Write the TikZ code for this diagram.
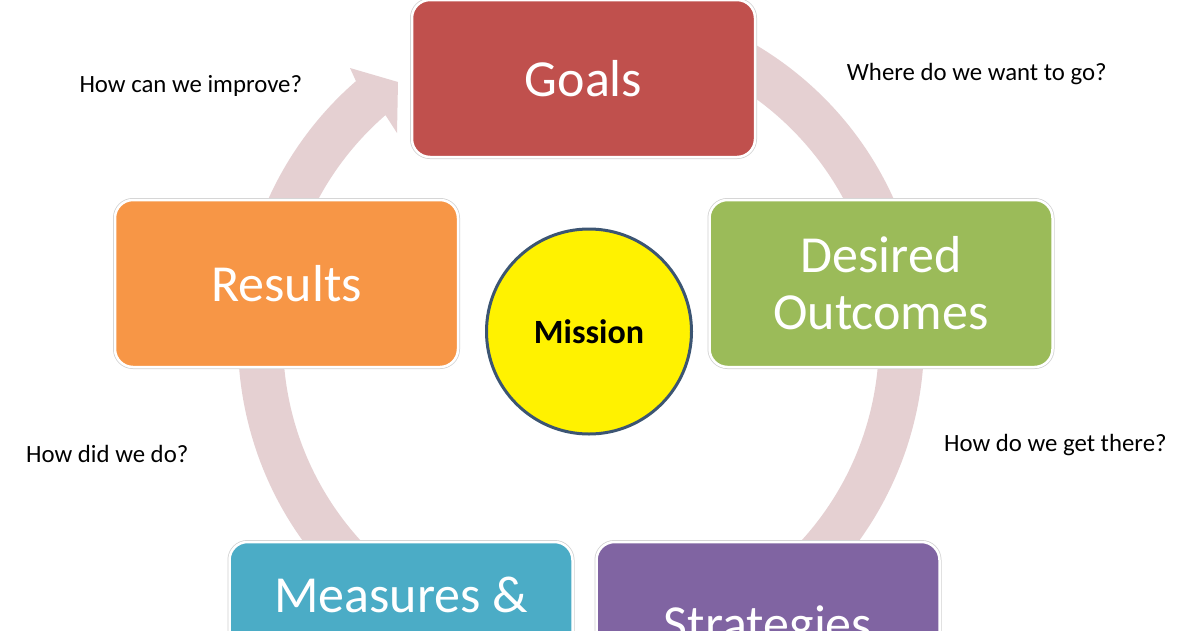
\documentclass[tikz,border=0pt]{standalone}
\usepackage{fontspec}
\setmainfont{Carlito}
\usetikzlibrary{calc}
\definecolor{ringc}{RGB}{229,208,210}
\definecolor{goalc}{RGB}{192,80,77}
\definecolor{desc}{RGB}{155,187,89}
\definecolor{resc}{RGB}{247,150,70}
\definecolor{measc}{RGB}{75,172,198}
\definecolor{stratc}{RGB}{128,100,162}
\definecolor{missionb}{RGB}{60,85,115}
\begin{document}
\begin{tikzpicture}[x=1pt,y=1pt,
  box/.style={rectangle, rounded corners=18pt, minimum width=343pt, minimum height=167pt,
    inner sep=0pt, text=white, font=\fontsize{52pt}{57pt}\selectfont, align=center,
    draw=white, line width=2.5pt, preaction={draw=black!18, line width=4pt}},
  boxtext/.style={inner sep=0pt, text=white, font=\fontsize{52pt}{57pt}\selectfont},
  question/.style={anchor=base west, inner sep=0pt, text=black, font=\fontsize{24.8pt}{30pt}\selectfont}]
\useasboundingbox (0,0) rectangle (1200,-630);
\clip (0,0) rectangle (1200,-630);
\fill[white] (0,0) rectangle (1200,-630);
% cycle ring with arrowhead
\coordinate (C) at (581,-340);
\coordinate (hb1) at (350,-68);
\coordinate (htip) at (398,-82);
\coordinate (hb2) at (397,-133);
\fill[ringc] ($(C)+(105:343)$) arc[start angle=105, end angle=-229, radius=343]
  -- (hb1) -- (htip) -- (hb2) -- ($(C)+(131:298)$)
  arc[start angle=-229, end angle=105, radius=298] -- cycle;
% boxes
\node[box, fill=goalc, minimum height=157pt] (goals) at (583.5,-78.5) {Goals};
\node[box, fill=desc] (desired) at (881,-283.5) {Desired\\Outcomes};
\node[box, fill=resc] (results) at (286.5,-283.5) {Results};
\node[box, fill=measc] (measures) at (401,-625.5) {};
\node[box, fill=stratc] (strategies) at (768,-625.5) {};
\node[boxtext, anchor=base] (mtext) at (401,-612) {Measures \&};
\node[boxtext, anchor=base] (stext) at (768,-641) {Strategies};
% mission
\node[circle, minimum size=205pt, inner sep=0pt, fill=yellow, draw=missionb, line width=3pt,
  font=\bfseries\fontsize{34pt}{40pt}\selectfont] (mission) at (589,-331.5) {Mission};
% questions
\node[question] (q1) at (79.3,-92.3) {How can we improve?};
\node[question] (q2) at (846.7,-80.7) {Where do we want to go?};
\node[question] (q3) at (944,-451.7) {How do we get there?};
\node[question] (q4) at (26,-462.3) {How did we do?};
\end{tikzpicture}
\end{document}
